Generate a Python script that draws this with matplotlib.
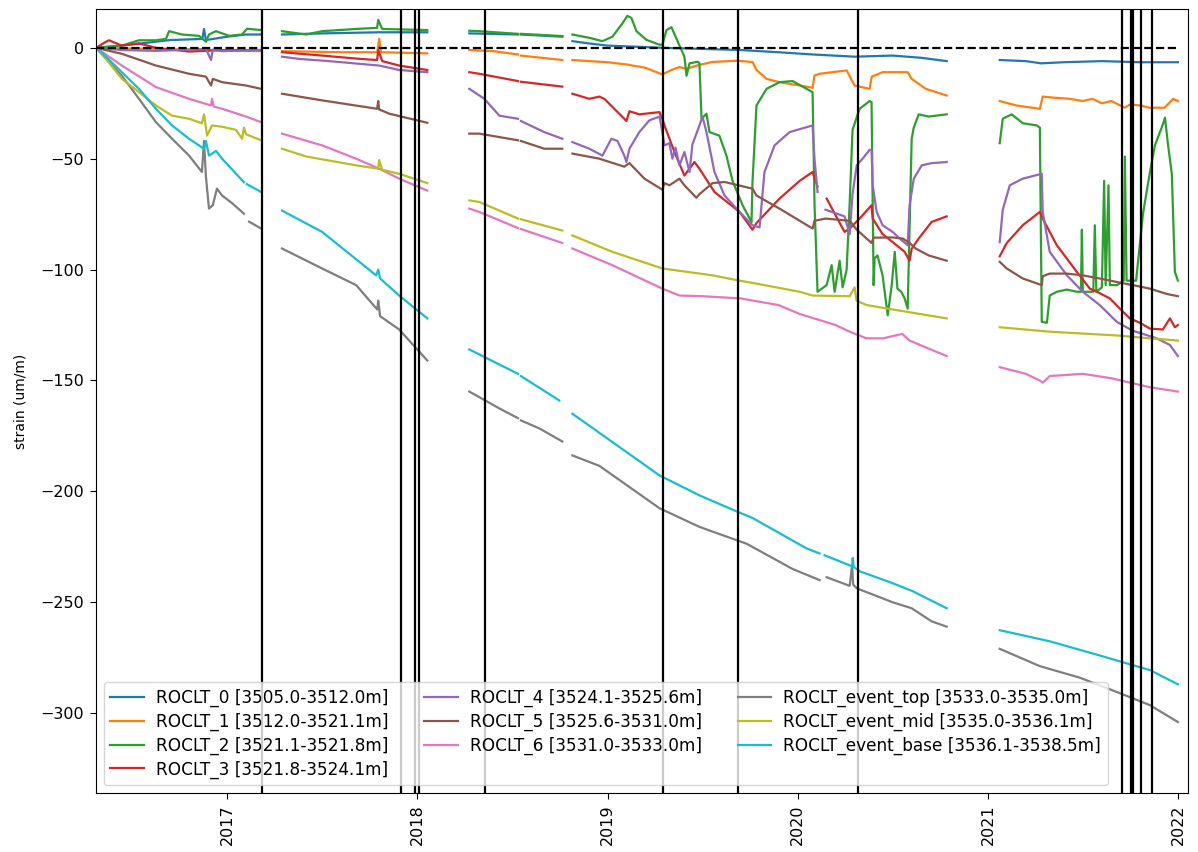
import numpy as np
import pandas as pd
import matplotlib
matplotlib.use("Agg")
import matplotlib.pyplot as plt

# ---------------- data (decimal years, strain in um/m; None = data gap) -------------
labels = ["ROCLT_0 [3505.0-3512.0m]", "ROCLT_1 [3512.0-3521.1m]", "ROCLT_2 [3521.1-3521.8m]",
          "ROCLT_3 [3521.8-3524.1m]", "ROCLT_4 [3524.1-3525.6m]", "ROCLT_5 [3525.6-3531.0m]",
          "ROCLT_6 [3531.0-3533.0m]", "ROCLT_event_top [3533.0-3535.0m]",
          "ROCLT_event_mid [3535.0-3536.1m]", "ROCLT_event_base [3536.1-3538.5m]"]

r0_t = [2016.311, 2016.5, 2016.7, 2016.87, 2016.879, 2016.889, 2017.0, 2017.1, 2017.179, 2017.235,
        2017.289, 2017.5, 2017.8, 2018.053, 2018.16, 2018.274, 2018.53, 2018.537, 2018.545, 2018.763, 2018.79,
        2018.816, 2018.9, 2019.0, 2019.15, 2019.289, 2019.5, 2019.7, 2019.9, 2020.079, 2020.3, 2020.5,
        2020.65, 2020.784, 2020.92, 2021.063, 2021.2, 2021.28, 2021.4, 2021.6, 2021.8, 2022.0]
r0_v = [0, 1.5, 3.5, 4, 8.5, 3.5, 5, 6, 6, None,
        6, 6.5, 7, 7, None, 6.5, 6, None, 6, 5, None,
        3, 2, 1, 0.5, 0, -0.5, -1, -2, -3, -4, -3.5,
        -4.5, -6, None, -5.5, -6, -7, -6.5, -6, -6.5, -6.5]

r1_t = [2016.311, 2016.6, 2016.9, 2017.179, 2017.235, 2017.289, 2017.6, 2017.79, 2017.8, 2017.81, 2018.053,
        2018.16, 2018.274, 2018.4, 2018.53, 2018.537, 2018.545, 2018.763, 2018.79, 2018.816, 2018.905,
        2019.0, 2019.1, 2019.2, 2019.289, 2019.337, 2019.379, 2019.416, 2019.47, 2019.55, 2019.68,
        2019.763, 2019.784, 2019.837, 2019.905, 2020.011, 2020.079, 2020.089, 2020.116, 2020.258,
        2020.3, 2020.379, 2020.39, 2020.447, 2020.579, 2020.6, 2020.674, 2020.784, 2020.92,
        2021.063, 2021.15, 2021.274, 2021.289, 2021.35, 2021.43, 2021.5, 2021.55, 2021.6, 2021.65,
        2021.72, 2021.75, 2021.8, 2021.85, 2021.93, 2021.975, 2022.0]
r1_v = [0, -0.5, -1, -1.5, None, -1.5, -2, -2, 4, -2, -2.5,
        None, -1, -1.5, -3, None, -3.5, -5.5, None, -5.5, -6,
        -6.5, -7.5, -9, -12, -10, -8.7, -9.5, -8, -6.4, -5.8,
        -6.4, -10, -14, -15.5, -17, -18, -12.5, -11.7, -10.2,
        -17, -18.5, -13, -11, -11, -14, -18.5, -21.5, None,
        -24, -26, -27.5, -22, -22.5, -23, -24, -23, -25, -24,
        -27, -25.5, -26, -27, -27, -23, -24]

r2_t = [2016.311, 2016.447, 2016.537, 2016.626, 2016.679, 2016.695, 2016.763, 2016.853, 2016.889, 2016.905,
        2016.942, 2017.011, 2017.079, 2017.105, 2017.179, 2017.235,
        2017.289, 2017.416, 2017.5, 2017.679, 2017.789, 2017.795, 2017.816, 2018.053, 2018.16,
        2018.274, 2018.326, 2018.53, 2018.537, 2018.545, 2018.763, 2018.79, 2018.816, 2018.905, 2018.974,
        2019.026, 2019.079, 2019.105, 2019.126, 2019.153, 2019.205, 2019.274, 2019.289, 2019.311,
        2019.337, 2019.379, 2019.405, 2019.416, 2019.432, 2019.474, 2019.484, 2019.495, 2019.521,
        2019.537, 2019.589, 2019.626, 2019.658, 2019.711, 2019.758, 2019.763, 2019.784, 2019.837,
        2019.905, 2019.974, 2020.047, 2020.079, 2020.089, 2020.105, 2020.153, 2020.179, 2020.195,
        2020.221, 2020.237, 2020.258, 2020.274, 2020.289, 2020.326, 2020.379, 2020.389, 2020.4,
        2020.405, 2020.42, 2020.447, 2020.474, 2020.495, 2020.511, 2020.525, 2020.545, 2020.563,
        2020.579, 2020.6, 2020.611, 2020.637, 2020.689, 2020.784, 2020.92,
        2021.063, 2021.079, 2021.126, 2021.184, 2021.258, 2021.274, 2021.284, 2021.311, 2021.326,
        2021.363, 2021.416, 2021.468, 2021.49, 2021.495, 2021.5, 2021.555, 2021.563, 2021.571,
        2021.6, 2021.612, 2021.62, 2021.635, 2021.642, 2021.68, 2021.715, 2021.721, 2021.73,
        2021.78, 2021.816, 2021.853, 2021.879, 2021.921, 2021.932, 2021.947, 2021.968, 2021.984, 2022.0]
r2_v = [0, 1, 3.4, 3.4, 4, 7.5, 6, 5.4, 2.7, 6,
        7.5, 5.4, 6, 8.6, 8, None,
        7.5, 6, 7.5, 8.5, 9, 12.6, 8.5, 8, None,
        7.7, 7.5, 6.3, None, 6.3, 5.3, None, 6, 4.5, 3,
        5, 11, 14.4, 13.5, 7.5, 3.6, 1.4, 1.4, 8,
        9.3, 1, -4, -12.6, -7, -6.3, -7, -32, -29.7,
        -38, -39.6, -48.6, -60, -71, -78.6, -60.5, -26, -18.5,
        -15.5, -15, -18.5, -20, -70, -110, -107, -98, -110,
        -96, -108, -100, -70, -37, -27.5, -24, -24.5, -107,
        -95, -93.6, -102.6, -120.6, -107, -92, -108.6, -110, -113,
        -117.6, -41, -36, -30, -31, -30, None,
        -43, -32, -30, -34, -35, -36, -123.5, -124, -111.7,
        -110, -109, -110, -110, -82, -110, -110, -80, -110,
        -108, -60, -107, -62, -107, -107, -105, -49, -105,
        -105, -75, -56, -44, -34.5, -31.5, -43, -57, -101, -105]

r3_t = [2016.311, 2016.363, 2016.379, 2016.447, 2016.537, 2016.626, 2016.8, 2016.974, 2017.179, 2017.235,
        2017.289, 2017.5, 2017.7, 2017.789, 2017.795, 2017.816, 2017.905, 2018.053, 2018.16,
        2018.274, 2018.326, 2018.53, 2018.537, 2018.545, 2018.763, 2018.79, 2018.816, 2018.905, 2018.958,
        2018.984, 2019.089, 2019.1, 2019.116, 2019.168, 2019.274, 2019.289, 2019.3, 2019.353, 2019.405,
        2019.458, 2019.484, 2019.563, 2019.695, 2019.763, 2019.784, 2019.905, 2020.011, 2020.079,
        2020.105, 2020.125, 2020.153, 2020.247, 2020.274, 2020.326, 2020.389, 2020.395, 2020.447,
        2020.5, 2020.563, 2020.589, 2020.6, 2020.637, 2020.705, 2020.784, 2020.92,
        2021.063, 2021.1, 2021.184, 2021.274, 2021.289, 2021.363, 2021.468, 2021.537, 2021.574,
        2021.642, 2021.711, 2021.747, 2021.8, 2021.853, 2021.921, 2021.958, 2021.984, 2022.0]
r3_v = [0, 2.7, 3.4, 1, 2, 0, -1.7, -1, -1, None,
        -2, -3.5, -5, -5.5, -1, -6, -8, -10, None,
        -11, -11.7, -15, None, -15.3, -17.5, None, -20.7, -23, -22,
        -23, -32, -33, -28.6, -30, -29, -32, -35, -47, -57.6,
        -51.5, -54.5, -65, -74, -82, -79, -68, -60, -56,
        -62.5, None, -68, -83, -81.5, -77, -71, -77, -84,
        -87.6, -92, -96, -90.6, -86, -78.5, -76, None,
        -94, -88, -80, -74, -77, -89, -101, -108.6, -110,
        -113, -119, -122, -124, -126.6, -127, -122, -126, -125]

r4_t = [2016.311, 2016.447, 2016.626, 2016.889, 2016.916, 2016.925, 2016.974, 2017.179, 2017.235,
        2017.289, 2017.379, 2017.537, 2017.8, 2017.905, 2018.053, 2018.16,
        2018.274, 2018.353, 2018.432, 2018.53, 2018.537, 2018.545, 2018.668, 2018.763, 2018.79,
        2018.816, 2018.905, 2018.974, 2019.021, 2019.053, 2019.089, 2019.1, 2019.116, 2019.168,
        2019.221, 2019.274, 2019.289, 2019.3, 2019.326, 2019.342, 2019.358, 2019.379, 2019.405,
        2019.432, 2019.447, 2019.484, 2019.5, 2019.521, 2019.563, 2019.616, 2019.695, 2019.763,
        2019.8, 2019.826, 2019.879, 2019.958, 2020.079, 2020.089, 2020.105, 2020.125, 2020.147,
        2020.247, 2020.274, 2020.289, 2020.311, 2020.342, 2020.379, 2020.389, 2020.395, 2020.416,
        2020.447, 2020.5, 2020.537, 2020.579, 2020.589, 2020.611, 2020.653, 2020.705, 2020.784, 2020.92,
        2021.063, 2021.079, 2021.116, 2021.184, 2021.284, 2021.289, 2021.326, 2021.416, 2021.5,
        2021.589, 2021.679, 2021.763, 2021.816, 2021.889, 2021.958, 2022.0]
r4_v = [0, -1, -1.4, -0.5, -5.5, -0.8, -1.5, -1, None,
        -4, -5, -6, -8, -10, -11, None,
        -18.5, -23, -30.6, -32, None, -33, -38, -41, None,
        -42.5, -45.5, -48.6, -41, -42, -48.6, -51.5, -45.5, -38,
        -32.7, -31, -38, -44, -43, -50, -45, -53, -47,
        -56, -43.6, -35, -31, -38, -56, -66.6, -74, -80,
        -81, -56, -44, -38, -35, -50, -65, None, -73,
        -76, -84, -66, -53, -50, -46, -46, -62, -74,
        -80, -83, -86, -89, -71, -59, -53, -52, -51.5, None,
        -87.6, -73, -62, -59, -56.8, -74, -92, -102.6, -110,
        -116, -123.6, -127.6, -129, -131, -134, -139]

r5_t = [2016.311, 2016.447, 2016.626, 2016.8, 2016.889, 2016.916, 2016.925, 2016.974, 2017.1, 2017.179,
        2017.235, 2017.289, 2017.5, 2017.789, 2017.795, 2017.8, 2017.853, 2018.053, 2018.16,
        2018.274, 2018.326, 2018.53, 2018.537, 2018.545, 2018.668, 2018.763, 2018.79, 2018.816,
        2018.958, 2019.089, 2019.116, 2019.195, 2019.289, 2019.3, 2019.326, 2019.379, 2019.405,
        2019.468, 2019.484, 2019.553, 2019.616, 2019.763, 2019.784, 2019.905, 2020.079, 2020.089,
        2020.147, 2020.274, 2020.311, 2020.389, 2020.4, 2020.5, 2020.553, 2020.589, 2020.621,
        2020.689, 2020.784, 2020.92,
        2021.063, 2021.1, 2021.184, 2021.284, 2021.289, 2021.326, 2021.416, 2021.5, 2021.589,
        2021.679, 2021.763, 2021.853, 2021.942, 2022.0]
r5_v = [0, -2.7, -8, -11.7, -13, -17, -14, -15.5, -17, -18.5,
        None, -20.7, -23.7, -27.5, -24, -27.8, -29.7, -33.8, None,
        -38.7, -38.7, -41.7, None, -42, -45.5, -45.5, None, -47.7,
        -50, -53.6, -52, -59, -64, -61, -62, -59, -62,
        -67.6, -66, -61, -60.5, -63.5, -66.6, -72.5, -81.5, -78,
        -77, -78, -82, -88, -85.6, -85.5, -86, -88, -90.5,
        -93.6, -96, None,
        -96.5, -99.5, -104, -107, -103, -101.8, -101.8, -102.6, -104,
        -105.6, -107, -108.6, -111, -112]

r6_t = [2016.311, 2016.447, 2016.626, 2016.8, 2016.916, 2016.921, 2016.93, 2016.974, 2017.1, 2017.179,
        2017.235, 2017.289, 2017.5, 2017.679, 2017.8, 2017.905, 2018.053, 2018.16,
        2018.274, 2018.326, 2018.53, 2018.537, 2018.545, 2018.763, 2018.79, 2018.816, 2019.026,
        2019.289, 2019.379, 2019.5, 2019.7, 2019.9, 2020.011, 2020.2, 2020.274, 2020.363, 2020.45,
        2020.55, 2020.589, 2020.7, 2020.784, 2020.92,
        2021.063, 2021.2, 2021.274, 2021.289, 2021.326, 2021.5, 2021.65, 2021.75, 2021.85, 2022.0]
r6_v = [0, -8, -17.7, -23, -26, -23, -26.5, -27.5, -31, -33.5,
        None, -38.7, -44, -50, -54.5, -59, -64.4, None,
        -72.5, -74, -81.3, None, -81.7, -88, None, -90.5, -98,
        -108.6, -111.7, -112, -113, -116, -120, -125, -128, -131, -131,
        -129, -132, -136, -139, None,
        -144, -147, -150, -151, -148, -147, -149, -151, -153, -155]

top_t = [2016.311, 2016.447, 2016.537, 2016.626, 2016.711, 2016.8, 2016.868, 2016.879, 2016.889, 2016.905,
         2016.925, 2016.947, 2016.974, 2017.026, 2017.089, 2017.1, 2017.116, 2017.179, 2017.235,
         2017.289, 2017.5, 2017.679, 2017.79, 2017.795, 2017.805, 2017.905, 2018.053, 2018.16,
         2018.274, 2018.432, 2018.53, 2018.537, 2018.545, 2018.642, 2018.763, 2018.79, 2018.816,
         2018.958, 2019.274, 2019.484, 2019.679, 2019.732, 2019.974, 2020.116, 2020.13, 2020.153,
         2020.274, 2020.287, 2020.292, 2020.311, 2020.5, 2020.6, 2020.705, 2020.784, 2020.92,
         2021.063, 2021.274, 2021.484, 2021.695, 2021.853, 2022.0]
top_v = [0, -12.6, -23, -33.5, -41, -48.6, -56, -42, -58, -72.5,
         -71, -63.5, -66.6, -70, -74.8, None, -78.4, -81.5, None,
         -90.5, -99.5, -107, -118, -114, -121, -127, -141, None,
         -155, -162.6, -167, None, -168, -171.6, -177.5, None, -183.8,
         -188.5, -207.6, -216, -222, -223.6, -235, -240, None, -238.7,
         -242.6, -233, -242, -243.7, -250, -252.7, -258.6, -261, None,
         -271, -278.8, -284, -291, -296.4, -304]

mid_t = [2016.311, 2016.363, 2016.447, 2016.537, 2016.626, 2016.711, 2016.8, 2016.868, 2016.879, 2016.895,
         2016.921, 2016.974, 2017.047, 2017.079, 2017.089, 2017.1, 2017.179, 2017.235,
         2017.289, 2017.416, 2017.679, 2017.795, 2017.8, 2017.816, 2017.905, 2018.053, 2018.16,
         2018.274, 2018.326, 2018.53, 2018.537, 2018.545, 2018.763, 2018.79, 2018.816, 2019.026,
         2019.289, 2019.553, 2019.695, 2019.763, 2020.011, 2020.079, 2020.274, 2020.3, 2020.31,
         2020.363, 2020.537, 2020.784, 2020.92,
         2021.063, 2021.326, 2021.679, 2021.853, 2022.0]
mid_v = [0, -5, -14, -20, -26, -30.6, -32, -34, -30, -39.6,
         -35, -35.6, -37, -41, -36, -39, -41.7, None,
         -45.5, -49, -53, -54.5, -50.6, -55, -56.8, -61, None,
         -68.8, -69.5, -77, None, -77.3, -82.4, None, -84.6, -92,
         -99.5, -102.6, -105, -106, -110, -111.7, -112, -108, -114,
         -116, -118.5, -122, None,
         -126, -128, -129.7, -131, -132]

base_t = [2016.311, 2016.363, 2016.447, 2016.537, 2016.626, 2016.711, 2016.8, 2016.879, 2016.889, 2016.905,
          2016.942, 2016.974, 2017.089, 2017.097, 2017.105, 2017.179, 2017.235,
          2017.289, 2017.5, 2017.784, 2017.795, 2017.805, 2017.905, 2018.053, 2018.16,
          2018.274, 2018.53, 2018.537, 2018.545, 2018.747, 2018.79, 2018.816, 2019.274, 2019.484,
          2019.679, 2019.763, 2020.047, 2020.116, 2020.13, 2020.142, 2020.287, 2020.29, 2020.295,
          2020.326, 2020.5, 2020.605, 2020.784, 2020.92,
          2021.063, 2021.326, 2021.589, 2021.853, 2022.0]
base_v = [0, -4, -11, -18.5, -27.5, -35, -41, -45.5, -42, -48.6,
          -46.5, -50, -60.6, None, -61.5, -65, None,
          -73.4, -83, -102.6, -100, -104, -111.7, -122, None,
          -136, -147, None, -148, -159, None, -165, -192.8, -201.8,
          -209, -212, -225.7, -228, None, -228.8, -233.8, -230, -234,
          -236, -241.4, -245, -252.7, None,
          -262.6, -267.6, -274, -280.6, -287]

series_t = [r0_t, r1_t, r2_t, r3_t, r4_t, r5_t, r6_t, top_t, mid_t, base_t]
series_v = [r0_v, r1_v, r2_v, r3_v, r4_v, r5_v, r6_v, top_v, mid_v, base_v]

event_dates = ["2017-03-08", "2017-11-30", "2017-12-27", "2018-01-04", "2018-05-11",
               "2019-04-17", "2019-09-08", "2020-04-27", "2021-09-16", "2021-10-02",
               "2021-10-06", "2021-10-21", "2021-11-11"]
zero_span = [2016.311, 2022.0]
x_range = [2016.311, 2022.053]
y_range = [-336, 17.5]
yticks = [0, -50, -100, -150, -200, -250, -300]


def yr2dt(a):
    a = np.asarray(a, dtype=float)
    return pd.Timestamp("2016-01-01") + pd.to_timedelta((a - 2016.0) * 365.25, unit="D")


fig = plt.figure(figsize=(11.98, 8.52), dpi=100)
ax = fig.add_axes([96 / 1198, 1 - 793 / 852, (1188 - 96) / 1198, (793 - 9) / 852])

for t, v, lab in zip(series_t, series_v, labels):
    ax.plot(yr2dt(t), np.array(v, dtype=float), lw=1.6, label=lab)

ax.plot(yr2dt(zero_span), [0, 0], "k--", lw=1.6)
for d in event_dates:
    ax.axvline(pd.Timestamp(d), color="k", lw=1.6)

ax.set_xlim(yr2dt(x_range))
ax.set_ylim(y_range)
ax.set_yticks(yticks)
ax.set_ylabel("strain (um/m)", fontsize=10, labelpad=9)
ax.tick_params(axis="both", labelsize=11.5, length=4.2, pad=4.2)
for lab in ax.get_xticklabels():
    lab.set_rotation(90)

ax.legend(loc="lower left", ncol=3, fontsize=12.2, labelspacing=0.33,
          handletextpad=0.7, columnspacing=2.1, borderaxespad=0.45)

fig.savefig("out.png", dpi=100)
